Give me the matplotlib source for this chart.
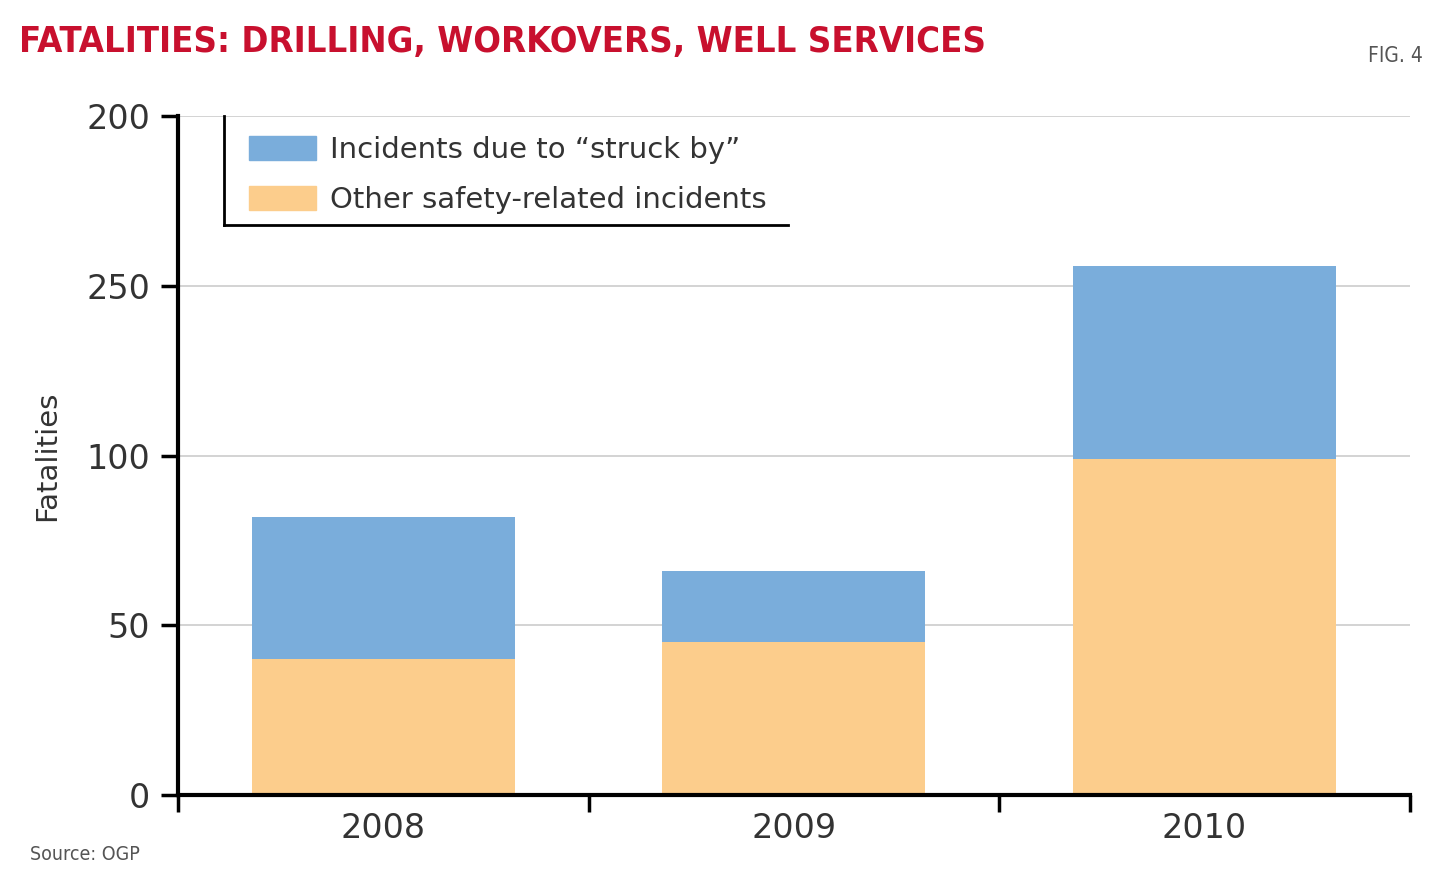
import matplotlib.pyplot as plt
from matplotlib.lines import Line2D
import numpy as np

years = ["2008", "2009", "2010"]
other_incidents = [40, 45, 99]
struck_by = [42, 21, 57]
y_ticks = [0, 50, 100, 150, 200]
y_tick_labels = ["0", "50", "100", "250", "200"]

blue = "#7aaddb"
orange = "#fccd8c"
narrow = ["DejaVu Sans"]

fig = plt.figure(figsize=(14.4, 8.74), dpi=100)
ax = fig.add_axes([0.1236, 0.0904, 0.979 - 0.1236, 0.867 - 0.0904])

x = np.arange(len(years))
ax.bar(x, other_incidents, width=0.64, color=orange, zorder=2)
ax.bar(x, struck_by, width=0.64, bottom=other_incidents, color=blue, zorder=2)

ax.set_xlim(-0.5, 2.5)
ax.set_ylim(0, 200)
ax.set_yticks(y_ticks)
ax.set_yticklabels(y_tick_labels, fontsize=24, color="#333333")
ax.set_xticks(x)
ax.set_xticklabels(years, fontsize=24, color="#333333")
ax.set_xticks([-0.5, 0.5, 1.5, 2.5], minor=True)
ax.tick_params(axis="x", which="major", length=0, pad=12)
ax.tick_params(axis="x", which="minor", length=12, width=2.5, direction="out")
ax.tick_params(axis="y", length=12, width=2.5, pad=8)

for s in ["top", "right"]:
    ax.spines[s].set_visible(False)
ax.spines["left"].set_linewidth(3)
ax.spines["bottom"].set_linewidth(3)
ax.grid(axis="y", color="#cccccc", linewidth=1.2, zorder=0)
ax.set_axisbelow(True)

ax.set_ylabel("Fatalities", fontsize=21, color="#333333", labelpad=18)

# legend with open frame (left and bottom lines only)
handles = [plt.Rectangle((0, 0), 1, 1, color=blue),
           plt.Rectangle((0, 0), 1, 1, color=orange)]
leg = ax.legend(handles, ['Incidents due to \u201cstruck by\u201d', "Other safety-related incidents"],
                loc="upper left", bbox_to_anchor=(0.036, 1.01), frameon=False,
                fontsize=21, handlelength=2.3, handleheight=0.9, labelspacing=0.75,
                handletextpad=0.5)
for t in leg.get_texts():
    t.set_color("#333333")
ax.add_line(Line2D([0.037, 0.037], [1.0, 0.84], transform=ax.transAxes,
                   color="black", lw=2, clip_on=False))
ax.add_line(Line2D([0.037, 0.495], [0.84, 0.84], transform=ax.transAxes,
                   color="black", lw=2, clip_on=False))

title = fig.text(0.013, 0.952, "FATALITIES: DRILLING, WORKOVERS, WELL SERVICES",
                 fontsize=38, fontweight="bold", color="#c8102e", family=narrow,
                 fontstretch="condensed", va="center")
fig.text(0.988, 0.936, "FIG. 4", fontsize=15, color="#555555", family=narrow,
         fontstretch="condensed", ha="right", va="center")
fig.text(0.021, 0.022, "Source: OGP", fontsize=14, color="#555555", family=narrow,
         fontstretch="condensed", va="center")

# shrink the title so it spans about the same width as in the reference
renderer = fig.canvas.get_renderer()
w = title.get_window_extent(renderer).width
title.set_fontsize(38 * min(1.0, 968 / w))

plt.savefig("out.png", dpi=100)
